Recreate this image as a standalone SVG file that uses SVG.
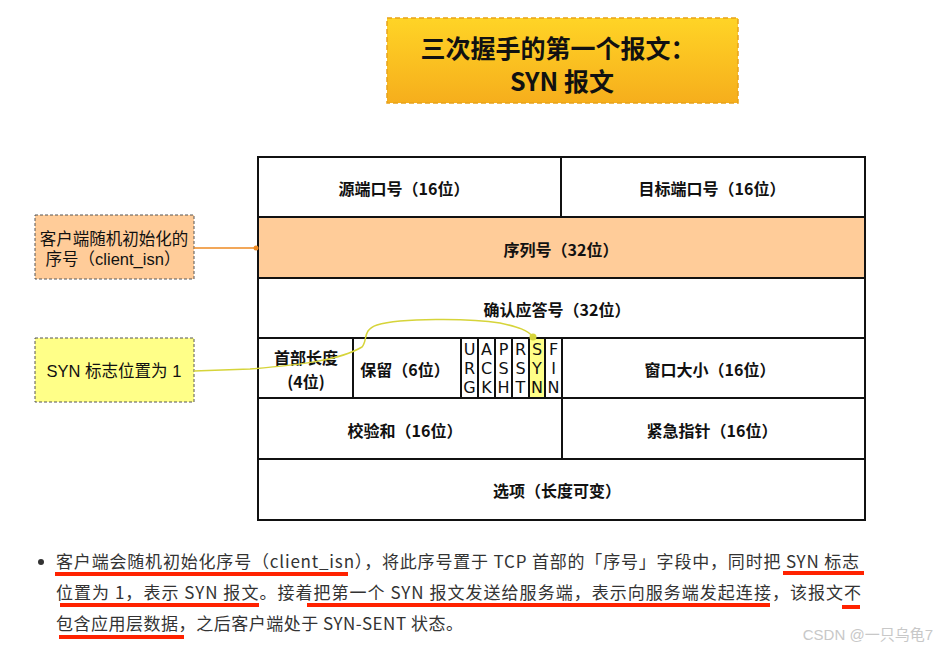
<svg xmlns="http://www.w3.org/2000/svg" width="938" height="649" viewBox="0 0 938 649">
<defs>
<linearGradient id="tg" x1="0" y1="0" x2="0" y2="1">
<stop offset="0" stop-color="#FFD426"/>
<stop offset="1" stop-color="#F6AE1C"/>
</linearGradient>
<style>
.cell{fill:#fff;stroke:#111;stroke-width:2}
.lbl{font-family:"Noto Sans CJK SC","Noto Sans",sans-serif;font-weight:bold;font-size:16px;fill:#111;text-anchor:middle;dominant-baseline:central}
.flag{font-family:"DejaVu Sans","Liberation Sans",sans-serif;font-size:16px;fill:#111;text-anchor:middle;dominant-baseline:central}
.note{font-family:"Liberation Sans","Noto Sans CJK SC",sans-serif;font-size:16.5px;fill:#111;text-anchor:middle;dominant-baseline:central}
.body{font-family:"Noto Sans CJK SC","Noto Sans",sans-serif;font-size:17px;fill:#333}
.ul{stroke:#FF2200;stroke-width:4;fill:none}
</style>
</defs>
<rect width="938" height="649" fill="#fff"/>

<g id="title">
<rect x="387" y="18" width="351" height="85" fill="url(#tg)" stroke="#E8A21A" stroke-width="1.5" stroke-dasharray="5,3"/>
<text x="558" y="47" font-family="'Noto Sans CJK SC',sans-serif" font-weight="bold" font-size="25" text-anchor="middle" dominant-baseline="central" fill="#111">三次握手的第一个报文：</text>
<text x="562" y="80" font-family="'Noto Sans CJK SC',sans-serif" font-weight="bold" font-size="25" text-anchor="middle" dominant-baseline="central" fill="#111">SYN 报文</text>
</g>

<g id="tcp-header">
<rect class="cell" x="258" y="157" width="303" height="60"/>
<rect class="cell" x="561" y="157" width="304" height="60"/>
<rect class="cell" x="258" y="217" width="607" height="61" style="fill:#FFCC99"/>
<rect class="cell" x="258" y="278" width="607" height="60"/>
<rect class="cell" x="258" y="338" width="95" height="60"/>
<rect class="cell" x="353" y="338" width="108" height="60"/>
<rect class="cell" x="461" y="338" width="17" height="60"/>
<rect class="cell" x="478" y="338" width="17" height="60"/>
<rect class="cell" x="495" y="338" width="17" height="60"/>
<rect class="cell" x="512" y="338" width="17" height="60"/>
<rect class="cell" x="529" y="338" width="16" height="60" style="fill:#FFFF88"/>
<rect class="cell" x="545" y="338" width="17" height="60"/>
<rect class="cell" x="562" y="338" width="303" height="60"/>
<rect class="cell" x="258" y="398" width="304" height="61"/>
<rect class="cell" x="562" y="398" width="303" height="61"/>
<rect class="cell" x="258" y="459" width="607" height="61"/>
</g>

<g id="field-labels">
<text class="lbl" x="404" y="188">源端口号（16位）</text>
<text class="lbl" x="712" y="188">目标端口号（16位）</text>
<text class="lbl" x="561" y="249">序列号（32位）</text>
<text class="lbl" x="557" y="309">确认应答号（32位）</text>
<text class="lbl" x="306" y="357">首部长度</text>
<text class="lbl" x="306" y="381">(4位)</text>
<text class="lbl" x="405" y="369">保留（6位）</text>
<text class="lbl" x="710" y="369">窗口大小（16位）</text>
<text class="lbl" x="405" y="430">校验和（16位）</text>
<text class="lbl" x="712" y="430">紧急指针（16位）</text>
<text class="lbl" x="557" y="490">选项（长度可变）</text>
</g>

<g id="flags">
<text class="flag" x="469.5" y="349">U</text><text class="flag" x="469.5" y="368">R</text><text class="flag" x="469.5" y="387">G</text>
<text class="flag" x="486.5" y="349">A</text><text class="flag" x="486.5" y="368">C</text><text class="flag" x="486.5" y="387">K</text>
<text class="flag" x="503.5" y="349">P</text><text class="flag" x="503.5" y="368">S</text><text class="flag" x="503.5" y="387">H</text>
<text class="flag" x="520.5" y="349">R</text><text class="flag" x="520.5" y="368">S</text><text class="flag" x="520.5" y="387">T</text>
<text class="flag" x="537" y="349">S</text><text class="flag" x="537" y="368">Y</text><text class="flag" x="537" y="387">N</text>
<text class="flag" x="553.5" y="349">F</text><text class="flag" x="553.5" y="368">I</text><text class="flag" x="553.5" y="387">N</text>
</g>

<g id="note-isn">
<rect x="35" y="215" width="159" height="64" fill="#FFCC99" stroke="#555" stroke-width="1" stroke-dasharray="3,2"/>
<text class="note" x="114" y="239">客户端随机初始化的</text>
<text class="note" x="113" y="259">序号（client_isn）</text>
</g>

<g id="note-syn">
<rect x="35" y="338" width="159" height="64" fill="#FFFF88" stroke="#555" stroke-width="1" stroke-dasharray="3,2"/>
<text class="note" x="114" y="371">SYN 标志位置为 1</text>
</g>

<g id="connectors">
<path d="M194,248 L256,248" stroke="#EE8A22" stroke-width="1.5" fill="none"/>
<circle cx="256" cy="248" r="2.5" fill="#EE8A22"/>
<path d="M194,371 L250,369 C300,365 340,360 362,347 C368,340 362,330 377,325 C400,318 470,318 500,323 C518,327 528,330 533,337" stroke="#D6D43A" stroke-width="1.5" fill="none"/>
<circle cx="533" cy="337" r="3.5" fill="#D6D43A"/>
</g>

<g id="text-body">
<circle cx="41" cy="562" r="3" fill="#333"/>
<text class="body" x="56" y="568" textLength="803" lengthAdjust="spacing">客户端会随机初始化序号（client_isn），将此序号置于 TCP 首部的「序号」字段中，同时把 SYN 标志</text>
<text class="body" x="56" y="599" textLength="805" lengthAdjust="spacing">位置为 1，表示 SYN 报文。接着把第一个 SYN 报文发送给服务端，表示向服务端发起连接，该报文不</text>
<text class="body" x="56" y="630" textLength="407" lengthAdjust="spacing">包含应用层数据，之后客户端处于 SYN-SENT 状态。</text>
<line class="ul" x1="55" y1="574" x2="348" y2="574"/>
<line class="ul" x1="783" y1="573" x2="864" y2="573"/>
<line class="ul" x1="60" y1="605" x2="259" y2="605"/>
<line class="ul" x1="307" y1="605" x2="770" y2="605"/>
<line class="ul" x1="842" y1="607" x2="860" y2="607"/>
<line class="ul" x1="59" y1="637" x2="184" y2="637"/>
<text x="933" y="640" text-anchor="end" font-family="'Liberation Sans','Noto Sans CJK SC',sans-serif" font-size="15" fill="#C8C8C8">CSDN @一只乌龟7</text>
</g>
</svg>
